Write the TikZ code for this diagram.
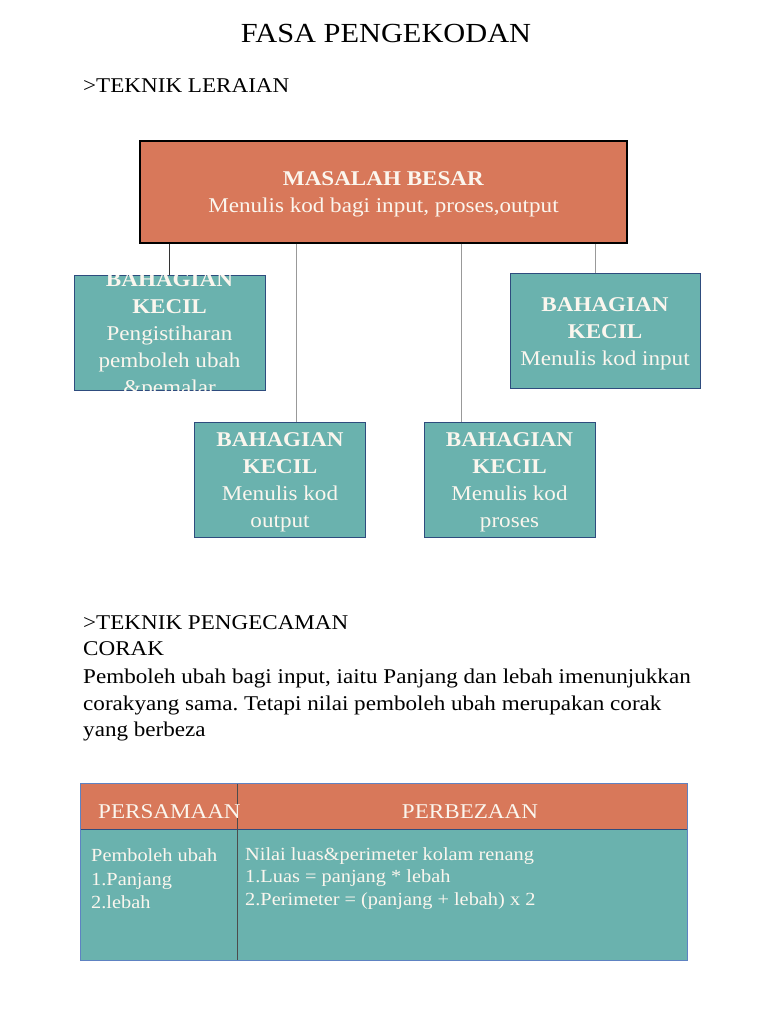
\documentclass[tikz,border=0pt]{standalone}
\usepackage{fontspec}
\setmainfont[FakeStretch=1.1]{Liberation Serif}
\frenchspacing
\definecolor{salmon}{HTML}{D8785A}
\definecolor{teal2}{HTML}{6AB2AE}
\definecolor{boxblue}{HTML}{2E4C7E}
\definecolor{tblblue}{HTML}{5E82C2}
\definecolor{txtw}{HTML}{FBF6EE}
\tikzset{
  bigbox/.style={draw=black, line width=1.1pt, fill=salmon, inner sep=0pt, text=txtw},
  smallbox/.style={draw=boxblue, line width=1pt, fill=teal2, inner sep=0pt, minimum width=171pt, minimum height=115pt},
  boxtext/.style={text=txtw, align=center, font=\fontsize{21}{27}\selectfont, inner sep=0pt},
  plain/.style={anchor=base west, inner sep=0pt, font=\fontsize{21}{27}\selectfont},
  conn/.style={draw=gray!80, line width=0.8pt},
  connd/.style={draw=black!80, line width=1.3pt},
  tcell/.style={inner sep=0pt},
  ttext/.style={anchor=base west, inner sep=0pt, text=txtw, font=\fontsize{18.5}{23}\selectfont},
  thead/.style={inner sep=0pt, text=txtw, font=\fontsize{21}{25}\selectfont},
}
\begin{document}
\begin{tikzpicture}[x=1pt,y=-1pt]
\useasboundingbox (0,0) rectangle (768,1024);
% title
\node[inner sep=0pt, anchor=base, font=\fontsize{27.6}{30}\selectfont] (title) at (386,43) {FASA PENGEKODAN};
\node[plain] (t1) at (83,93) {>TEKNIK LERAIAN};
% coordinates for connector x positions
\coordinate (x2) at (296,0);
\coordinate (x3) at (461,0);
\coordinate (x4) at (595,0);
% big box
\node[bigbox, minimum width=487pt, minimum height=102pt] (big) at (383.5,192) {};
\node[boxtext] (bigt) at (383.5,194) {\textbf{MASALAH BESAR}\\Menulis kod bagi input, proses,output};
% small boxes
\node[smallbox, minimum width=191pt] (b1) at (169.5,332.5) {};
\begin{scope}
\clip (74,275) rectangle (265,390);
\node[boxtext] (b1t) at (169.5,336) {\textbf{BAHAGIAN}\\\textbf{KECIL}\\Pengistiharan\\pemboleh ubah\\\&pemalar};
\end{scope}
\node[smallbox, minimum width=190pt] (b4) at (605,330.5) {};
\node[boxtext] (b4t) at (605,334) {\textbf{BAHAGIAN}\\\textbf{KECIL}\\Menulis kod input};
\node[smallbox] (b2) at (280,479.5) {};
\node[boxtext] (b2t) at (280,482) {\textbf{BAHAGIAN}\\\textbf{KECIL}\\Menulis kod\\output};
\node[smallbox] (b3) at (509.5,479.5) {};
\node[boxtext] (b3t) at (509.5,482) {\textbf{BAHAGIAN}\\\textbf{KECIL}\\Menulis kod\\proses};
% connectors
\draw[connd] (big.south -| b1.north) -- (b1.north);
\draw[conn] (big.south -| x2) -- (b2.north -| x2);
\draw[conn] (big.south -| x3) -- (b3.north -| x3);
\draw[conn] (big.south -| x4) -- (b4.north -| x4);
% second section
\node[plain] (t2) at (83,629) {>TEKNIK PENGECAMAN};
\node[plain] (t3) at (83,655) {CORAK};
\node[plain] (p1) at (83,683) {Pemboleh ubah bagi input, iaitu Panjang dan lebah imenunjukkan};
\node[plain] (p2) at (83,710) {corakyang sama. Tetapi nilai pemboleh ubah merupakan corak};
\node[plain] (p3) at (83,736) {yang berbeza};
% table
\node[tcell, fill=salmon, minimum width=156pt, minimum height=46pt] (hL) at (159,807) {};
\node[tcell, fill=salmon, minimum width=450pt, minimum height=46pt] (hR) at (462,807) {};
\node[tcell, fill=teal2, minimum width=156pt, minimum height=130pt] (bL) at (159,895) {};
\node[tcell, fill=teal2, minimum width=450pt, minimum height=130pt] (bR) at (462,895) {};
\draw[tblblue, line width=0.9pt] (hL.north west) rectangle (bR.south east);
\draw[boxblue, line width=1.2pt] (bL.north west) -- (bR.north east);
\draw[black!70, line width=0.9pt] (hL.north east) -- (bL.south east);
\node[thead, anchor=base west] (hLt) at (98,818) {PERSAMAAN};
\node[thead, anchor=base] (hRt) at (470,818) {PERBEZAAN};
\node[ttext] (l1) at (91,861) {Pemboleh ubah};
\node[ttext] (l2) at (91,885) {1.Panjang};
\node[ttext] (l3) at (91,908) {2.lebah};
\node[ttext] (r1) at (245,860) {Nilai luas\&perimeter kolam renang};
\node[ttext] (r2) at (245,882) {1.Luas = panjang * lebah};
\node[ttext] (r3) at (245,905) {2.Perimeter = (panjang + lebah) x 2};
\end{tikzpicture}
\end{document}
